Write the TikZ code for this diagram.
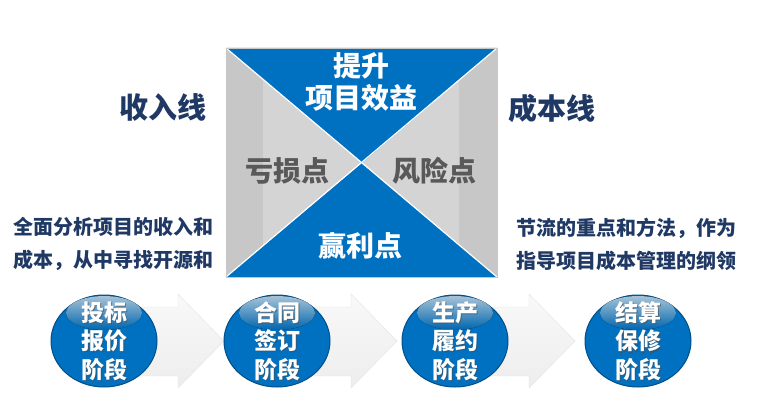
\documentclass[tikz,border=0pt]{standalone}
\usepackage{fontspec}
\setmainfont{Noto Sans CJK SC}
\usetikzlibrary{shapes.geometric,calc}
\definecolor{boxblue}{HTML}{0070C0}
\definecolor{navy}{HTML}{1F3864}
\definecolor{darkgrey}{HTML}{595959}
\definecolor{tri}{HTML}{D4D4D4}
\definecolor{tridark}{HTML}{C7C7C7}
\tikzset{
  title/.style={font=\bfseries\fontsize{29}{32}\selectfont,text=navy},
  para/.style={font=\bfseries\fontsize{20}{33}\selectfont,text=navy,align=left,inner sep=0pt},
  quad/.style={font=\bfseries\fontsize{28}{32}\selectfont,inner sep=0pt},
  stage/.style={ellipse,draw=boxblue!70!black,line width=1pt,fill=boxblue,
    minimum width=106pt,minimum height=92pt,inner sep=0pt},
  stagetext/.style={text=white,font=\bfseries\fontsize{23}{28.5}\selectfont,align=center,inner sep=0pt},
  flow/.style={top color=gray!5,bottom color=gray!14,draw=gray!22}
}

\begin{document}
\begin{tikzpicture}[x=1pt,y=-1pt]
  \useasboundingbox (0,0) rectangle (760,412);
  % the square with four triangles
  \coordinate (tl) at (226,48);
  \coordinate (tr) at (497,48);
  \coordinate (bl) at (226,277);
  \coordinate (br) at (497,277);
  \coordinate (mid) at (362,163);
  \fill[tri] (tl) -- (mid) -- (bl) -- cycle;
  \fill[tri] (tr) -- (mid) -- (br) -- cycle;
  \begin{scope}
    \clip (tl) -- (mid) -- (bl) -- cycle;
    \fill[tridark] (226,48) rectangle (263,277);
  \end{scope}
  \begin{scope}
    \clip (tr) -- (mid) -- (br) -- cycle;
    \fill[tridark] (459,48) rectangle (497,277);
  \end{scope}
  \fill[boxblue] (tl) -- (tr) -- (mid) -- cycle;
  \fill[boxblue] (bl) -- (br) -- (mid) -- cycle;
  \draw[white,line width=1.2pt] (tl) -- (br) (tr) -- (bl);
  \draw[gray!45,line width=0.6pt] (tl) rectangle (br);

  \node[quad,text=white] (up1) at (361,66) {提升};
  \node[quad,text=white] (up2) at (361,98) {项目效益};
  \node[quad,text=darkgrey] (loss) at (287,171) {亏损点};
  \node[quad,text=darkgrey] (risk) at (434,171) {风险点};
  \node[quad,text=white] (gain) at (360,246) {赢利点};

  % the two lines and their notes
  \node[title] (income) at (163,107) {收入线};
  \node[title] (cost) at (552,108) {成本线};
  \node[para,anchor=west] (left) at (13,243.5) {全面分析项目的收入和\\成本，从中寻找开源和};
  \node[para,anchor=west] (right) at (516,244.5) {节流的重点和方法，作为\\指导项目成本管理的纲领};

  % stages
  \coordinate (c1) at (104,341);
  \coordinate (c2) at (277,341);
  \coordinate (c3) at (455,341);
  \coordinate (c4) at (638,341);
  \foreach \i in {1,2,3}
    \draw[flow] ($(c\i)+(0,-34)$) -- ++(74,0) -- ++(0,-13) -- ($(c\i)+(120,0)$)
      -- ($(c\i)+(74,47)$) -- ++(0,-12) -- ($(c\i)+(0,35)$) -- cycle;
  \foreach \i/\txt in {1/投标\\报价\\阶段,2/合同\\签订\\阶段,3/生产\\履约\\阶段,4/结算\\保修\\阶段} {
    \node[stage] (s\i) at (c\i) {};
    \fill[top color=white!72!boxblue,bottom color=boxblue,opacity=0.9]
      ($(s\i.center)+(0,-28)$) ellipse (38 and 17);
    \node[stagetext,text=black!70,opacity=0.6] at ($(s\i.center)+(1.2,1.2)$) {\txt};
    \node[stagetext] (t\i) at (s\i.center) {\txt};
  }
\end{tikzpicture}
\end{document}
